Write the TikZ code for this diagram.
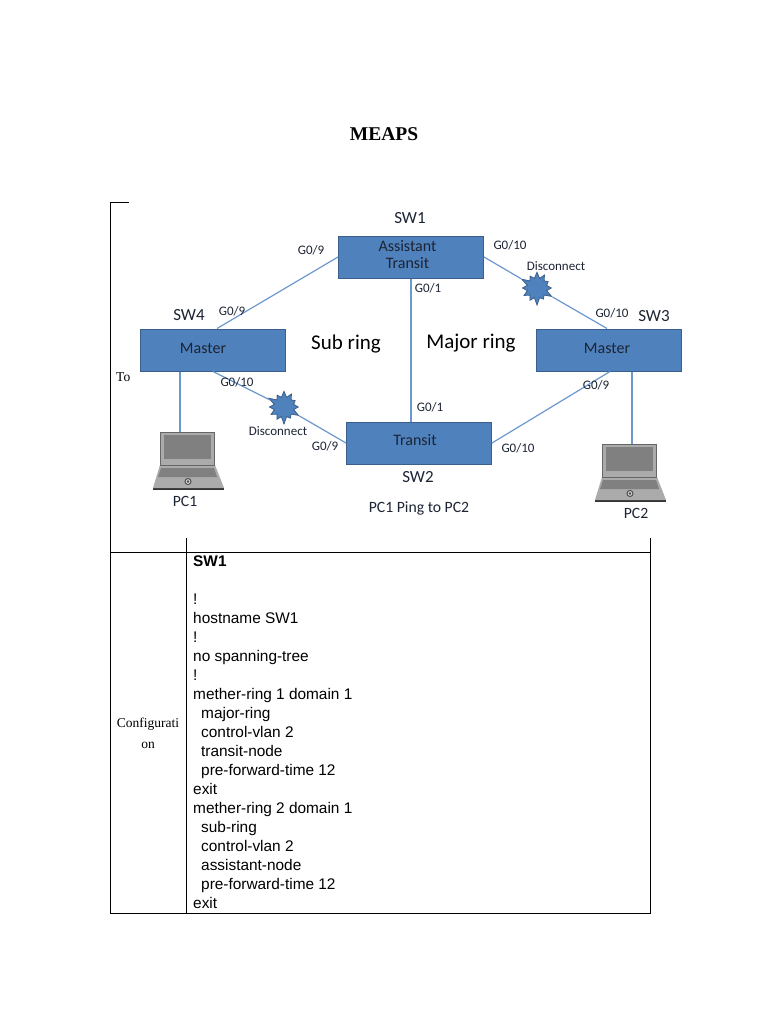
\documentclass[tikz,border=0pt]{standalone}
\usepackage{fontspec}
\setmainfont{Liberation Sans}
\newfontfamily\carl{Carlito}
\newfontfamily\lserif{Liberation Serif}
\usetikzlibrary{shapes.symbols}
\definecolor{boxfill}{HTML}{4F81BD}
\definecolor{boxline}{HTML}{3A5F8C}
\definecolor{wire}{HTML}{6C98CF}
\definecolor{labelink}{HTML}{1D2433}
\tikzset{
  x=1pt,y=-1pt,
  swbox/.style={draw=boxline,fill=boxfill,line width=1pt,minimum width=145pt,minimum height=42pt,inner sep=0pt},
  boxtext/.style={inner sep=0pt,text=labelink,font=\carl\fontsize{16}{17}\selectfont,align=center},
  wirel/.style={draw=wire,line width=1.2pt},
  portlab/.style={inner sep=0pt,text=labelink,font=\carl\fontsize{13}{15}\selectfont},
  swname/.style={inner sep=0pt,text=labelink,font=\carl\fontsize{17}{20}\selectfont},
  pingtext/.style={inner sep=0pt,text=labelink,font=\carl\fontsize{15.7}{18}\selectfont},
  ringlab/.style={inner sep=0pt,text=black,font=\carl\fontsize{21}{25}\selectfont},
  burst/.style={starburst,starburst points=12,starburst point height=8pt,draw=boxline,fill=boxfill,line width=.8pt,minimum width=36pt,minimum height=36pt,inner sep=0pt},
  tablerule/.style={draw=black,line width=.9pt},
  conf/.style={anchor=base west,inner sep=0pt,font=\fontsize{15.4}{18}\selectfont},
  smallserif/.style={inner sep=0pt,font=\lserif\fontsize{13.5}{21}\selectfont,align=center}
}
\newcommand{\laptop}[1]{%
  \begin{scope}[shift={(#1)}]
    \fill[black!80!white] (0,56) -- (71,56) -- (71,58) -- (0,58) -- cycle;
    \fill[black!33!white] (7,33) -- (62,33) -- (71,56) -- (0,56) -- cycle;
    \fill[black!50!white] (8,36) -- (61,36) -- (64,45) -- (5,45) -- cycle;
    \draw[black!70!white,line width=1pt,fill=black!15!white] (35,49.5) circle (3);
    \fill[black!70!white] (35,49.5) circle (1.3);
    \fill[black!33!white] (7,0) rectangle (61,33);
    \fill[black!50!white] (11,3) rectangle (58,27);
    \draw[black!60!white,line width=.7pt] (7,0) rectangle (61,33);
  \end{scope}}
\begin{document}
\begin{tikzpicture}
\useasboundingbox (0,0) rectangle (768,1024);
\fill[white] (0,0) rectangle (768,1024);
% title
\node[inner sep=0pt,font=\lserif\bfseries\fontsize{19.5}{22}\selectfont] (title) at (384,134) {MEAPS};
% table
\coordinate (tl) at (110,202);
\coordinate (tstub) at (129,202);
\coordinate (ml) at (110,552);
\coordinate (mr) at (650,552);
\coordinate (bl) at (110,913);
\coordinate (br) at (650,913);
\coordinate (ct) at (186,538);
\coordinate (cb) at (186,913);
\coordinate (rt) at (650,538);
\draw[tablerule] (tstub) -- (tl) -- (bl) -- (br) -- (rt);
\draw[tablerule] (ml) -- (mr);
\draw[tablerule] (ct) -- (cb);
\node[smallserif,anchor=west] (to) at (116,377) {To};
\node[smallserif] (cfgl) at (148,733) {Configurati\\on};
% switches
\node[swbox] (sw1) at (411,257) {};
\node[swbox] (sw4) at (212.5,350) {};
\node[swbox] (sw3) at (609,350) {};
\node[swbox] (sw2) at (419,443) {};
\node[boxtext] (t1) at (407.5,254.5) {Assistant\\Transit};
\node[boxtext] (t4) at (203,348) {Master};
\node[boxtext] (t3) at (607,348) {Master};
\node[boxtext] (t2) at (415,440) {Transit};
\node[burst] (b1) at (284,407) {};
\node[burst] (b2) at (537,288) {};
% laptops
\laptop{153,432}
\laptop{595,444}
\coordinate (pc1top) at (180,432);
\coordinate (pc2top) at (632,444);
% connectors
\draw[wirel] ([xshift=4.5pt]sw4.north) -- (sw1.west);
\draw[wirel] ([xshift=.5pt]sw4.south) -- (b1);
\draw[wirel] (b1) -- (sw2.west);
\draw[wirel] (sw1.east) -- (b2);
\draw[wirel] (b2) -- ([xshift=-2pt]sw3.north);
\draw[wirel] (sw1.south) -- (sw1.south |- sw2.north);
\draw[wirel] (sw2.east) -- ([xshift=1pt]sw3.south);
\draw[wirel] (sw4.south -| pc1top) -- (pc1top);
\draw[wirel] (sw3.south -| pc2top) -- (pc2top);
% names
\node[swname] (n1) at (410,218) {SW1};
\node[swname] (n4) at (189,315) {SW4};
\node[swname] (n3) at (654,316) {SW3};
\node[swname] (n2) at (418,477) {SW2};
\node[pingtext] (p1) at (185,501) {PC1};
\node[pingtext] (p2) at (636,513) {PC2};
\node[pingtext] (ping) at (419,508) {PC1 Ping to PC2};
\node[ringlab] (subr) at (346,344) {Sub ring};
\node[ringlab] (majr) at (471,343) {Major ring};
% port labels
\node[portlab] (a) at (311,250) {G0/9};
\node[portlab] (b) at (232,311) {G0/9};
\node[portlab] (c) at (237,382) {G0/10};
\node[portlab] (d) at (325,446) {G0/9};
\node[portlab] (e) at (510,245) {G0/10};
\node[portlab] (f) at (428,288) {G0/1};
\node[portlab] (g) at (430,407) {G0/1};
\node[portlab] (h) at (612,313) {G0/10};
\node[portlab] (i) at (596,385) {G0/9};
\node[portlab] (j) at (518,448) {G0/10};
\node[portlab] (k) at (278,431) {Disconnect};
\node[portlab] (l) at (556,266) {Disconnect};
% configuration
\node[conf,font=\bfseries\fontsize{15.4}{18}\selectfont] (l0) at (193,566) {SW1};
\node[conf] (l1) at (193,604) {!};
\node[conf] (l2) at (193,623) {hostname SW1};
\node[conf] (l3) at (193,642) {!};
\node[conf] (l4) at (193,661) {no spanning-tree};
\node[conf] (l5) at (193,680) {!};
\node[conf] (l6) at (193,699) {mether-ring 1 domain 1};
\node[conf] (l7) at (201,718) {major-ring};
\node[conf] (l8) at (201,737) {control-vlan 2};
\node[conf] (l9) at (201,756) {transit-node};
\node[conf] (l10) at (201,775) {pre-forward-time 12};
\node[conf] (l11) at (193,794) {exit};
\node[conf] (l12) at (193,813) {mether-ring 2 domain 1};
\node[conf] (l13) at (201,832) {sub-ring};
\node[conf] (l14) at (201,851) {control-vlan 2};
\node[conf] (l15) at (201,870) {assistant-node};
\node[conf] (l16) at (201,889) {pre-forward-time 12};
\node[conf] (l17) at (193,908) {exit};
\end{tikzpicture}
\end{document}
